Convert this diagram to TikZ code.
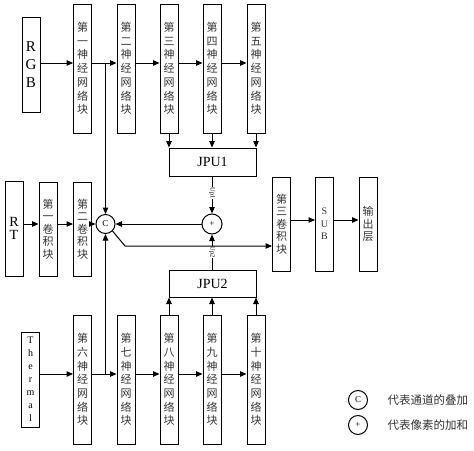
\documentclass[tikz,border=0pt]{standalone}
\usepackage{fontspec}
\setmainfont{Liberation Serif}
\newfontfamily\cjk{Noto Sans CJK SC}
\usetikzlibrary{arrows.meta}
\tikzset{
  arr/.style={-{Triangle[length=6.5pt,width=5.5pt]}},
  ln/.style={line width=1pt},
  tall/.style={draw, line width=1pt, minimum width=18pt, minimum height=129pt, inner sep=0pt, align=center, font=\cjk\fontsize{11}{13.7}\selectfont, text=black!80},
  mid/.style={draw, line width=1pt, minimum width=18pt, minimum height=94pt, inner sep=0pt, align=center, font=\cjk\fontsize{11}{12.5}\selectfont, text=black!80},
  inbox/.style={draw, line width=1pt, minimum width=18pt, minimum height=95pt, inner sep=0pt, align=center},
  jpu/.style={draw, line width=1pt, minimum width=87pt, minimum height=28pt, inner sep=0pt, font=\fontsize{14}{16}\selectfont},
  op/.style={draw, circle, line width=1pt, minimum size=19pt, inner sep=0pt, font=\fontsize{9}{10}\selectfont},
  uplab/.style={fill=white, inner sep=0.5pt, rotate=-90, font=\fontsize{6.5}{7}\selectfont},
  leg/.style={anchor=west, font=\cjk\fontsize{11.5}{13}\selectfont, text=black!80}
}
\begin{document}
\begin{tikzpicture}[x=1pt,y=-1pt]
\useasboundingbox (0,0) rectangle (474,450);
% row 1
\node[inbox, font=\fontsize{15}{18}\selectfont] (RGB) at (31,64.5) {R\\G\\B};
\node[tall] (b1) at (82.5,68.5) {第\\一\\神\\经\\网\\络\\块};
\node[tall] (b2) at (126,68.5) {第\\二\\神\\经\\网\\络\\块};
\node[tall] (b3) at (169,68.5) {第\\三\\神\\经\\网\\络\\块};
\node[tall] (b4) at (212,68.5) {第\\四\\神\\经\\网\\络\\块};
\node[tall] (b5) at (256,68.5) {第\\五\\神\\经\\网\\络\\块};
\coordinate (r1) at (0,63);
\node[jpu] (J1) at (212.5,162) {JPU1};
% row 2
\node[inbox, font=\fontsize{14}{13}\selectfont] (RT) at (14,228.5) {R\\T};
\node[mid] (c1) at (48,229) {第\\一\\卷\\积\\块};
\node[mid] (c2) at (82.5,229) {第\\二\\卷\\积\\块};
\node[op] (C) at (105.5,224) {C};
\node[op, minimum size=20pt] (P) at (212,224) {+};
\node[jpu, minimum height=27pt] (J2) at (212.5,283.5) {JPU2};
\node[mid] (c3) at (281.5,224) {第\\三\\卷\\积\\块};
\node[mid, font=\fontsize{10}{12.5}\selectfont] (S) at (324.5,224) {S\\U\\B};
\node[mid] (O) at (368,224) {输\\出\\层};
\coordinate (r2) at (0,220);
\coordinate (r2b) at (0,246);
\coordinate (bend) at (125,246);
% row 3
\node[inbox, font=\fontsize{10}{13}\selectfont] (Th) at (30.5,379.5) {T\\h\\e\\r\\m\\a\\l};
\node[tall] (b6) at (82.5,379.5) {第\\六\\神\\经\\网\\络\\块};
\node[tall] (b7) at (126,379.5) {第\\七\\神\\经\\网\\络\\块};
\node[tall] (b8) at (169,379.5) {第\\八\\神\\经\\网\\络\\块};
\node[tall] (b9) at (212,379.5) {第\\九\\神\\经\\网\\络\\块};
\node[tall] (b10) at (256,379.5) {第\\十\\神\\经\\网\\络\\块};
\coordinate (r3) at (0,374);
% legend
\node[op] (LC) at (358,400) {C};
\node[op] (LP) at (358,425) {+};
\node[leg] (LT1) at (384,400) {代表通道的叠加};
\node[leg] (LT2) at (384,425) {代表像素的加和};

% connectors row 1
\draw[ln,arr] (RGB.east |- r1) -- (b1.west |- r1);
\draw[ln,arr] (b1.east |- r1) -- (b2.west |- r1);
\draw[ln,arr] (b2.east |- r1) -- (b3.west |- r1);
\draw[ln,arr] (b3.east |- r1) -- (b4.west |- r1);
\draw[ln,arr] (b4.east |- r1) -- (b5.west |- r1);
\draw[ln,arr] (b3.south) -- (b3.south |- J1.north);
\draw[ln,arr] (b4.south) -- (b4.south |- J1.north);
\draw[ln,arr] (b5.south) -- (b5.south |- J1.north);
\draw[ln,arr] (C.north |- r1) -- (C.north);
% row 2
\draw[ln,arr] (RT.east |- C) -- (c1.west |- C);
\draw[ln,arr] (c1.east |- C) -- (c2.west |- C);
\draw[ln,arr] (c2.east |- C) -- (C.west);
\draw[ln,arr] (P.west) -- (C.east);
\draw[ln,arr] (J1.south -| P) -- (P.north) node[uplab, pos=0.45] {Up1};
\draw[ln,arr] (J2.north -| P) -- (P.south) node[uplab, pos=0.5] {Up2};
\draw[ln,arr] (C.-45) -- (bend) -- (c3.west |- r2b);
\draw[ln,arr] (c3.east |- r2) -- (S.west |- r2);
\draw[ln,arr] (S.east |- r2) -- (O.west |- r2);
% row 3
\draw[ln,arr] (Th.east |- r3) -- (b6.west |- r3);
\draw[ln,arr] (b6.east |- r3) -- (b7.west |- r3);
\draw[ln,arr] (b7.east |- r3) -- (b8.west |- r3);
\draw[ln,arr] (b8.east |- r3) -- (b9.west |- r3);
\draw[ln,arr] (b9.east |- r3) -- (b10.west |- r3);
\draw[ln,arr] (b8.north) -- (b8.north |- J2.south);
\draw[ln,arr] (b9.north) -- (b9.north |- J2.south);
\draw[ln,arr] (b10.north) -- (b10.north |- J2.south);
\draw[ln,arr] (C.south |- r3) -- (C.south);
\end{tikzpicture}
\end{document}
